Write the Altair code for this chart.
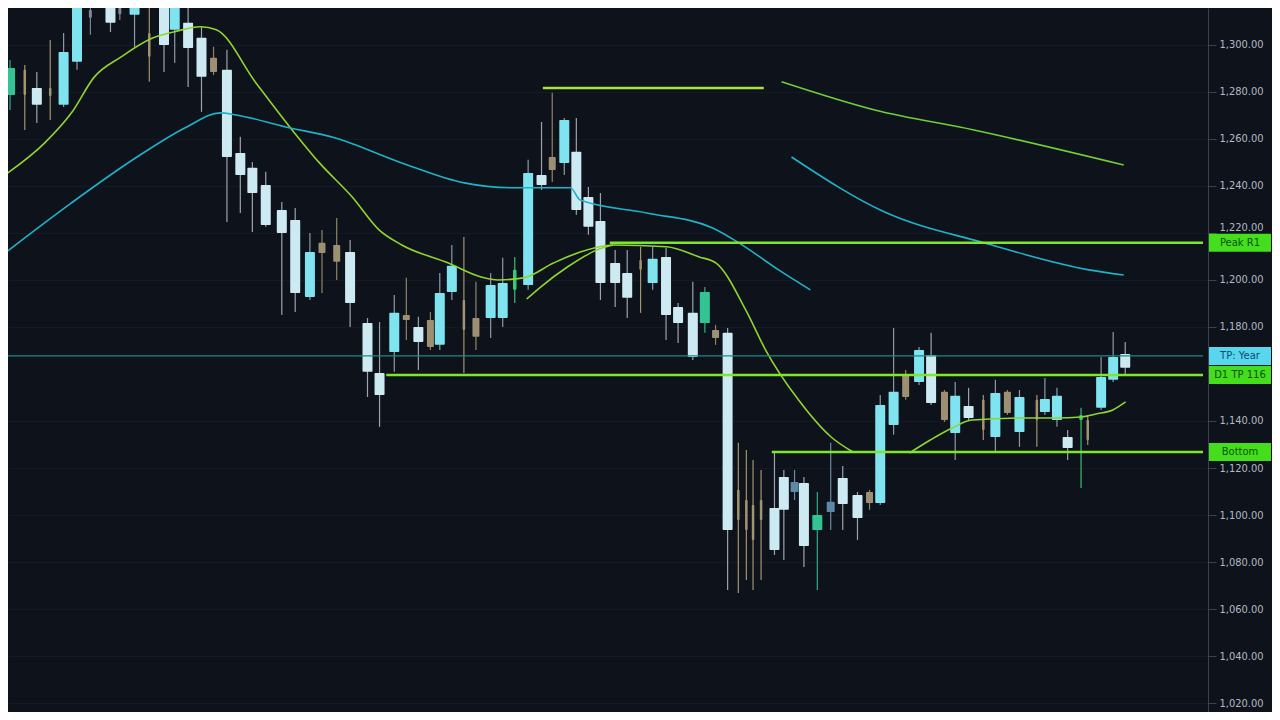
import altair as alt
import pandas as pd

# ---------------- candle data (bar number, OHLC, candle type) ----------------
BAR = [0.0, 1.1, 2.0, 3.0, 4.0, 5.0, 6.0, 7.5, 8.2, 9.3,
       10.4, 11.5, 12.3, 13.3, 14.3, 15.2, 16.2, 17.2, 18.1, 19.1,
       20.3, 21.3, 22.4, 23.3, 24.4, 25.4, 26.7, 27.6, 28.7, 29.6,
       30.5, 31.4, 32.1, 33.0, 33.9, 34.8, 35.9, 36.8, 37.7, 38.7,
       39.7, 40.5, 41.4, 42.3, 43.2, 44.1, 45.2, 46.1, 47.1, 48.0,
       49.0, 49.9, 51.0, 51.9, 52.7, 53.6, 54.4, 55.0, 55.5, 56.1,
       57.1, 57.8, 58.6, 59.3, 60.3, 61.3, 62.2, 63.3, 64.2, 65.0,
       66.0, 66.9, 67.9, 68.8, 69.8, 70.6, 71.6, 72.7, 73.6, 74.5,
       75.4, 76.7, 77.3, 78.2, 79.0, 80.0, 80.5, 81.5, 82.4, 83.3]
OPEN = [1278.7, 1289.4, 1281.7, 1281.7, 1274.5, 1292.8, 1314.9, 1323.4, 1316.0, 1312.8,
        1305.0, 1320.0, 1306.4, 1309.4, 1303.0, 1294.5, 1289.4, 1254.0, 1247.7, 1240.4,
        1229.8, 1225.5, 1192.8, 1215.8, 1214.9, 1211.9, 1181.7, 1160.4, 1169.4, 1185.1,
        1180.0, 1183.0, 1172.4, 1194.9, 1191.5, 1183.8, 1183.8, 1183.8, 1195.8, 1197.9,
        1244.7, 1252.3, 1249.8, 1254.5, 1235.3, 1225.1, 1207.2, 1203.0, 1208.5, 1198.7,
        1209.8, 1188.5, 1186.0, 1181.7, 1178.7, 1177.5, 1110.7, 1106.4, 1104.3, 1106.4,
        1103.0, 1116.2, 1114.1, 1113.6, 1093.6, 1105.6, 1115.8, 1108.5, 1109.8, 1105.1,
        1138.3, 1159.6, 1156.6, 1168.1, 1152.4, 1134.9, 1146.4, 1149.0, 1133.2, 1152.4,
        1135.3, 1149.0, 1143.8, 1140.4, 1133.2, 1140.4, 1140.4, 1145.6, 1157.5, 1168.5]
HIGH = [1293.6, 1291.5, 1288.5, 1302.1, 1305.1, 1322.0, 1320.0, 1325.0, 1322.0, 1324.0,
        1321.0, 1322.0, 1320.0, 1315.8, 1307.7, 1299.2, 1297.9, 1260.9, 1250.2, 1246.0,
        1233.2, 1230.6, 1220.0, 1221.3, 1226.4, 1217.0, 1183.8, 1182.1, 1193.6, 1200.9,
        1184.3, 1186.4, 1203.0, 1214.9, 1218.3, 1199.2, 1203.0, 1209.4, 1209.8, 1251.1,
        1267.2, 1279.6, 1268.9, 1268.9, 1239.6, 1237.0, 1212.8, 1212.8, 1214.1, 1214.1,
        1213.6, 1190.2, 1199.2, 1197.0, 1180.9, 1179.6, 1130.7, 1127.7, 1123.4, 1119.2,
        1126.4, 1119.2, 1119.2, 1116.2, 1109.8, 1130.7, 1120.9, 1109.8, 1110.7, 1151.1,
        1179.6, 1161.7, 1171.5, 1177.5, 1153.2, 1156.6, 1154.1, 1151.1, 1157.5, 1153.2,
        1153.2, 1151.1, 1158.3, 1154.1, 1136.2, 1145.6, 1142.6, 1167.2, 1177.9, 1173.6]
LOW = [1272.3, 1263.8, 1266.8, 1268.1, 1273.6, 1289.4, 1304.3, 1305.5, 1310.6, 1299.2,
       1284.3, 1288.5, 1292.3, 1282.1, 1271.5, 1287.2, 1224.7, 1228.5, 1220.4, 1222.6,
       1185.1, 1186.4, 1191.5, 1194.5, 1200.0, 1180.0, 1150.2, 1137.5, 1160.9, 1174.5,
       1161.7, 1170.2, 1170.2, 1191.5, 1160.4, 1170.2, 1175.3, 1180.0, 1190.2, 1195.8,
       1238.3, 1241.7, 1244.7, 1227.7, 1219.2, 1191.5, 1188.5, 1183.8, 1186.0, 1195.8,
       1174.5, 1173.2, 1166.0, 1177.5, 1172.4, 1068.1, 1066.8, 1072.4, 1068.1, 1072.4,
       1083.0, 1080.9, 1106.4, 1077.9, 1068.1, 1093.6, 1093.6, 1089.4, 1102.2, 1104.3,
       1134.1, 1149.0, 1155.3, 1146.8, 1139.6, 1123.4, 1140.4, 1131.9, 1126.4, 1142.6,
       1129.0, 1129.0, 1142.6, 1137.5, 1123.4, 1111.5, 1129.8, 1144.7, 1156.6, 1159.6]
CLOSE = [1290.2, 1278.7, 1274.5, 1278.3, 1297.0, 1317.9, 1311.5, 1309.4, 1313.0, 1321.0,
         1295.0, 1300.0, 1317.9, 1298.7, 1286.4, 1288.5, 1252.3, 1244.7, 1237.0, 1223.4,
         1220.0, 1194.5, 1211.9, 1211.5, 1207.7, 1190.2, 1160.9, 1151.1, 1186.0, 1183.0,
         1173.6, 1171.5, 1194.5, 1206.0, 1178.7, 1175.8, 1197.9, 1198.7, 1204.3, 1245.5,
         1240.4, 1246.8, 1268.1, 1229.8, 1222.6, 1198.7, 1198.7, 1192.4, 1204.3, 1209.0,
         1185.1, 1181.7, 1167.2, 1194.9, 1175.3, 1093.6, 1097.9, 1093.6, 1089.4, 1097.9,
         1085.1, 1102.2, 1109.8, 1086.8, 1100.0, 1101.3, 1104.7, 1098.7, 1105.1, 1146.8,
         1152.4, 1150.2, 1170.2, 1147.7, 1140.4, 1150.7, 1141.3, 1136.2, 1151.9, 1143.4,
         1150.2, 1140.4, 1149.4, 1150.7, 1128.5, 1142.6, 1131.9, 1158.7, 1167.2, 1162.6]
KIND = ["g", "l", "w", "l", "c", "c", "d", "w", "d", "c",
        "l", "w", "c", "w", "w", "t", "w", "w", "w", "w",
        "w", "w", "c", "t", "t", "w", "w", "w", "c", "t",
        "w", "t", "c", "c", "l", "t", "c", "c", "n", "c",
        "w", "t", "c", "w", "w", "w", "w", "w", "l", "c",
        "w", "w", "w", "g", "t", "w", "l", "l", "l", "l",
        "w", "w", "s", "w", "g", "s", "w", "w", "t", "c",
        "c", "t", "c", "w", "t", "c", "w", "l", "c", "t",
        "c", "l", "c", "c", "w", "n", "l", "c", "c", "w"]

# ---------------- moving-average style curves ----------------
FAST_BAR = [-0.37, 2.59, 4.59, 6.30, 8.30, 10.52, 12.22, 14.22, 15.41, 18.37,
            20.89, 23.11, 25.56, 27.56, 29.26, 32.74, 35.19, 36.44, 38.37, 40.59,
            42.59, 45.04, 49.04, 51.48, 52.74, 54.96, 56.44, 58.89, 61.33, 62.96]
FAST_VAL = [1244.7, 1258.3, 1271.1, 1286.4, 1294.9, 1302.6, 1305.5, 1307.7, 1306.4, 1283.8,
            1265.1, 1249.8, 1235.3, 1221.3, 1214.9, 1207.2, 1201.3, 1200.0, 1200.9, 1207.2,
            1211.9, 1214.9, 1214.1, 1209.8, 1207.2, 1187.2, 1170.2, 1149.0, 1133.2, 1126.8]
FAST2_BAR = [38.59, 39.63, 41.63, 43.85, 45.04]
FAST2_VAL = [1191.9, 1197.0, 1205.5, 1212.8, 1214.9]
FAST3_BAR = [67.19, 68.74, 70.37, 71.85, 75.93, 78.15, 80.0, 81.11, 82.37, 83.33]
FAST3_VAL = [1126.4, 1131.9, 1137.0, 1140.4, 1141.3, 1141.3, 1141.7, 1143.0, 1144.7, 1148.1]
FAST4_BAR = [57.63, 64.59, 72.0, 83.19]
FAST4_VAL = [1284.3, 1272.3, 1263.8, 1248.9]
SLOW_BAR = [-0.37, 4.59, 9.48, 13.19, 15.70, 16.89, 20.59, 24.30, 29.26, 33.93,
            37.63, 41.85, 42.59, 47.56, 52.44, 54.44, 57.41, 59.78]
SLOW_VAL = [1211.5, 1232.8, 1252.3, 1265.1, 1271.1, 1270.2, 1265.1, 1260.4, 1249.8, 1241.3,
            1239.2, 1239.2, 1234.0, 1228.5, 1222.2, 1215.8, 1204.3, 1195.8]
SLOW2_BAR = [58.37, 65.33, 72.74, 80.59, 83.19]
SLOW2_VAL = [1252.3, 1228.9, 1215.8, 1204.3, 1202.1]

# ---------------- horizontal levels ----------------
LEVEL_NAME = ["top", "peak", "tp_year", "d1", "bottom"]
LEVEL_PRICE = [1281.7, 1215.8, 1167.7, 1159.6, 1126.8]
LEVEL_FROM = [39.8, 44.8, -0.37, 28.1, 56.9]
LEVEL_TO = [56.3, 89.11, 89.11, 89.11, 89.11]
TAG_PRICE = [1215.8, 1167.7, 1159.6, 1126.8]
TAG_TEXT = ["Peak  R1", "TP: Year", "D1 TP 116", "Bottom"]
TAG_KIND = ["green", "cyan", "green", "green"]

# tick hidden behind the level tags in the reference (1,160) is left out
Y_TICKS = [1300, 1280, 1260, 1240, 1220, 1200, 1180, 1140, 1120, 1100, 1080, 1060, 1040, 1020]

# ---------------- styles ----------------
BG = "#0e121b"
W, H = 1200, 704
X_DOMAIN = [0.22, 89.11]
Y_DOMAIN = [1016.2, 1315.7]
KINDS = ["c", "w", "g", "n", "t", "l", "d", "s"]
BODY_COL = ["#7fe3f0", "#cdeaf3", "#33c493", "#37c97a", "#9c8f72", "#a39470", "#7f8995", "#5d88a8"]
WICK_COL = ["#8d9aa6", "#9ba4ae", "#2fae8c", "#3cbf70", "#8f8468", "#a39470", "#7b8591", "#6a8aa5"]
BODY_W = dict(zip(KINDS, [10, 10, 10, 3.5, 7, 2.5, 3, 8]))
LEVEL_COL = ["#a6e33c", "#7fe62a", "#1b8a88", "#7fe62a", "#7fe62a"]
LEVEL_W = dict(zip(LEVEL_NAME, [2.5, 2.5, 1.2, 2.5, 2.5]))

candles = pd.DataFrame({"bar": BAR, "open": OPEN, "high": HIGH, "low": LOW,
                        "close": CLOSE, "kind": KIND})
candles["bw"] = candles["kind"].map(BODY_W)

rows = []
for name, bars, vals in [("fast", FAST_BAR, FAST_VAL), ("fast2", FAST2_BAR, FAST2_VAL),
                         ("fast3", FAST3_BAR, FAST3_VAL), ("fast4", FAST4_BAR, FAST4_VAL),
                         ("slow", SLOW_BAR, SLOW_VAL), ("slow2", SLOW2_BAR, SLOW2_VAL)]:
    for i, (b, v) in enumerate(zip(bars, vals)):
        rows.append({"series": name, "bar": b, "value": v, "ord": i})
curves = pd.DataFrame(rows)

levels = pd.DataFrame({"name": LEVEL_NAME, "price": LEVEL_PRICE,
                       "x0": LEVEL_FROM, "x1": LEVEL_TO})
levels["lw"] = levels["name"].map(LEVEL_W)
tags = pd.DataFrame({"price": TAG_PRICE, "text": TAG_TEXT, "kind": TAG_KIND})

xs = alt.Scale(domain=X_DOMAIN, nice=False, zero=False)
ys = alt.Scale(domain=Y_DOMAIN, nice=False, zero=False)

y_axis = alt.Axis(orient="right", values=Y_TICKS, format=",.2f", title=None,
                  labelColor="#b3b9c4", labelFontSize=11,
                  labelFont="Liberation Sans Narrow, DejaVu Sans Condensed, DejaVu Sans",
                  labelBaseline={"condition": {"test": "datum.value == 1220", "value": "bottom"},
                                 "value": "middle"},
                  domainColor="#3a4150", tickColor="#3a4150", tickSize=8,
                  labelPadding=3, grid=True, gridColor="#141a25", gridWidth=1, zindex=0)
x_enc = lambda f: alt.X(f, scale=xs, axis=None)
y_enc = lambda f: alt.Y(f, scale=ys, axis=y_axis)

wicks = alt.Chart(candles).mark_rule(strokeWidth=1.2, clip=True).encode(
    x=x_enc("bar:Q"),
    y=y_enc("low:Q"),
    y2="high:Q",
    color=alt.Color("kind:N", scale=alt.Scale(domain=KINDS, range=WICK_COL), legend=None),
)

bodies = alt.Chart(candles).mark_bar(clip=True, cornerRadius=1).encode(
    x=x_enc("bar:Q"),
    y=y_enc("open:Q"),
    y2="close:Q",
    color=alt.Color("kind:N", scale=alt.Scale(domain=KINDS, range=BODY_COL), legend=None),
    size=alt.Size("bw:Q", scale=None, legend=None),
)

lines = alt.Chart(curves).mark_line(strokeWidth=1.6, clip=True, interpolate="monotone").encode(
    x=x_enc("bar:Q"),
    y=y_enc("value:Q"),
    detail="series:N",
    order="ord:Q",
    color=alt.Color("series:N",
                    scale=alt.Scale(domain=["fast", "fast2", "fast3", "fast4", "slow", "slow2"],
                                    range=["#8fd52f", "#8fd52f", "#8fd52f", "#6fcf3a",
                                           "#1fb3c9", "#1fb3c9"]),
                    legend=None),
)

level_rules = alt.Chart(levels).mark_rule(clip=True).encode(
    x=x_enc("x0:Q"),
    x2="x1:Q",
    y=y_enc("price:Q"),
    color=alt.Color("name:N", scale=alt.Scale(domain=LEVEL_NAME, range=LEVEL_COL), legend=None),
    strokeWidth=alt.StrokeWidth("lw:Q", scale=None, legend=None),
)

tag_boxes = alt.Chart(tags).mark_rect(yOffset=-9, y2Offset=9, clip=False).encode(
    x=alt.value(W + 1),
    x2=alt.value(W + 63),
    y=y_enc("price:Q"),
    y2="price:Q",
    color=alt.Color("kind:N", scale=alt.Scale(domain=["green", "cyan"],
                                              range=["#45de1c", "#58d6ee"]), legend=None),
)

tag_text = alt.Chart(tags).mark_text(fontSize=10, font="DejaVu Sans", clip=False,
                                     align="center", baseline="middle").encode(
    x=alt.value(W + 32),
    y=y_enc("price:Q"),
    text="text:N",
    color=alt.Color("kind:N", scale=alt.Scale(domain=["green", "cyan"],
                                              range=["#0c520c", "#0b4d6e"]), legend=None),
)

chart = alt.layer(wicks, bodies, lines, level_rules, tag_boxes, tag_text).resolve_scale(
    color="independent"
).properties(
    width=W, height=H,
    autosize=alt.AutoSizeParams(type="none"),
    padding={"left": 0, "top": 0, "right": 64, "bottom": 0},
    background=BG,
).configure_view(stroke=None, fill=BG)

chart.save("out.html", embed_options={"renderer": "svg", "actions": False})
